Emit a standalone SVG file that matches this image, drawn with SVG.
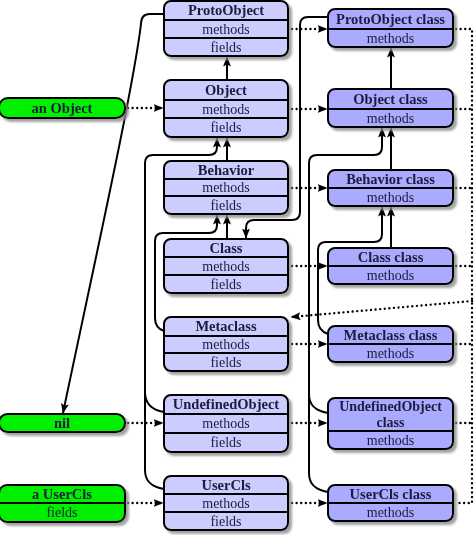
<svg xmlns="http://www.w3.org/2000/svg" width="474" height="535" viewBox="0 0 474 535">
<style>
.box{stroke:#000;stroke-width:2}
.l{fill:#ccccff}
.r{fill:#aaaaff}
.g{fill:#00f000}
.sep{stroke:#000;stroke-width:2}
text{font-family:"Liberation Serif","Times New Roman",serif;fill:#1c1c3c;text-anchor:middle}
.t{font-weight:bold;font-size:14.5px}
.t2{font-weight:bold;font-size:14px}
.m{font-size:14px}
.sol{fill:none;stroke:#000;stroke-width:2;marker-end:url(#ah)}
.sl{fill:none;stroke:#000;stroke-width:2}
.dot{fill:none;stroke:#000;stroke-width:2.4;stroke-linecap:round;stroke-dasharray:0.01 4.6}
.dota{fill:none;stroke:#000;stroke-width:2.4;stroke-linecap:round;stroke-dasharray:0.01 4.6;marker-end:url(#ahd)}
</style>
<defs>
<filter id="sh" x="-10%" y="-20%" width="130%" height="150%">
<feDropShadow dx="3" dy="3" stdDeviation="1.2" flood-color="#8c8c8c" flood-opacity="0.8"/>
</filter>
<marker id="ah" viewBox="0 0 10 8" refX="9.5" refY="4" markerWidth="10" markerHeight="8" markerUnits="userSpaceOnUse" orient="auto">
<path d="M0,0 L10,4 L0,8 L2,4 z" fill="#000"/>
</marker>
<marker id="ahd" viewBox="0 0 10 8" refX="9.5" refY="4" markerWidth="10" markerHeight="8" markerUnits="userSpaceOnUse" orient="auto">
<path d="M0,0 L10,4 L0,8 L2,4 z" fill="#000"/>
</marker>
</defs>

<g id="connectors">
<!-- inheritance, left column -->
<path class="sol" d="M227,80 V57"/>
<path class="sol" d="M227,161 V138"/>
<path class="sol" d="M227,239 V215"/>
<path class="sol" d="M164,489 C152,487 145,482 145,470 V163 Q145,155 153,155 H209 Q217,155 217,147 V138"/>
<path class="sl" d="M164,412 C152,410 145,404 145,392"/>
<path class="sol" d="M164,331 C158,329 155,325 155,318 V241 Q155,233 163,233 H209 Q217,233 217,225 V215"/>
<!-- inheritance, right column -->
<path class="sol" d="M391,89 V48"/>
<path class="sol" d="M391,170 V128"/>
<path class="sol" d="M391,248 V207"/>
<path class="sol" d="M328,492 C316,490 309,485 309,473 V163 Q309,155 317,155 H374 Q382,155 382,147 V128"/>
<path class="sl" d="M328,413 C316,411 309,406 309,394"/>
<path class="sol" d="M328,334 C322,332 318,328 318,320 V250 Q318,242 326,242 H374 Q382,242 382,234 V207"/>
<path class="sol" d="M328,17 H308 Q300,17 300,25 V212 Q300,220 292,220 H254 Q246,220 246,228 V238"/>
<path class="sol" d="M164,14 H150 Q141,14 141,24 C133,90 95,260 63,413"/>
<!-- instance-of, dotted -->
<path class="dota" d="M128,108 H163"/>
<path class="dota" d="M128,423 H163"/>
<path class="dota" d="M128,503 H163"/>
<path class="dota" d="M292,29 H327"/>
<path class="dota" d="M292,109 H327"/>
<path class="dota" d="M292,188 H327"/>
<path class="dota" d="M292,266 H327"/>
<path class="dota" d="M292,344 H327"/>
<path class="dota" d="M292,423 H327"/>
<path class="dota" d="M292,503 H327"/>
<path class="dot" d="M456,29 H472 V503 H456"/>
<path class="dot" d="M456,109 H472"/>
<path class="dot" d="M456,188 H472"/>
<path class="dot" d="M456,266 H472"/>
<path class="dot" d="M456,344 H472"/>
<path class="dot" d="M456,423 H472"/>
<path class="dota" d="M472,301 L291,317"/>
</g>

<g id="ProtoObject" filter="url(#sh)">
<rect class="box l" x="164" y="1" width="124" height="55" rx="7"/>
<path class="sep" d="M164,20 H288 M164,38 H288"/>
<text class="t" x="226" y="15">ProtoObject</text>
<text class="m" x="226" y="33.5">methods</text>
<text class="m" x="226" y="51.5">fields</text>
</g>
<g id="Object" filter="url(#sh)">
<rect class="box l" x="164" y="80" width="124" height="57" rx="7"/>
<path class="sep" d="M164,100 H288 M164,118 H288"/>
<text class="t" x="226" y="94.5">Object</text>
<text class="m" x="226" y="113.5">methods</text>
<text class="m" x="226" y="132">fields</text>
</g>
<g id="Behavior" filter="url(#sh)">
<rect class="box l" x="164" y="161" width="124" height="53" rx="7"/>
<path class="sep" d="M164,179 H288 M164,196 H288"/>
<text class="t" x="226" y="174.5">Behavior</text>
<text class="m" x="226" y="192">methods</text>
<text class="m" x="226" y="209.5">fields</text>
</g>
<g id="Class" filter="url(#sh)">
<rect class="box l" x="164" y="239" width="124" height="54" rx="7"/>
<path class="sep" d="M164,257 H288 M164,275 H288"/>
<text class="t" x="226" y="252.5">Class</text>
<text class="m" x="226" y="270.5">methods</text>
<text class="m" x="226" y="288.5">fields</text>
</g>
<g id="Metaclass" filter="url(#sh)">
<rect class="box l" x="164" y="317" width="124" height="54" rx="7"/>
<path class="sep" d="M164,336 H288 M164,353 H288"/>
<text class="t" x="226" y="331">Metaclass</text>
<text class="m" x="226" y="349">methods</text>
<text class="m" x="226" y="366.5">fields</text>
</g>
<g id="UndefinedObject" filter="url(#sh)">
<rect class="box l" x="164" y="395" width="124" height="57" rx="7"/>
<path class="sep" d="M164,414 H288 M164,433 H288"/>
<text class="t" x="226" y="409">UndefinedObject</text>
<text class="m" x="226" y="428">methods</text>
<text class="m" x="226" y="447">fields</text>
</g>
<g id="UserCls" filter="url(#sh)">
<rect class="box l" x="164" y="476" width="124" height="54" rx="7"/>
<path class="sep" d="M164,494 H288 M164,512 H288"/>
<text class="t" x="226" y="490">UserCls</text>
<text class="m" x="226" y="507.5">methods</text>
<text class="m" x="226" y="525.5">fields</text>
</g>

<g id="ProtoObjectClass" filter="url(#sh)">
<rect class="box r" x="328" y="9" width="125" height="38" rx="7"/>
<path class="sep" d="M328,29 H453"/>
<text class="t" x="390.5" y="23.5">ProtoObject class</text>
<text class="m" x="390.5" y="42.5">methods</text>
</g>
<g id="ObjectClass" filter="url(#sh)">
<rect class="box r" x="328" y="89" width="125" height="38" rx="7"/>
<path class="sep" d="M328,109 H453"/>
<text class="t" x="390.5" y="103.5">Object class</text>
<text class="m" x="390.5" y="122.5">methods</text>
</g>
<g id="BehaviorClass" filter="url(#sh)">
<rect class="box r" x="328" y="170" width="125" height="36" rx="7"/>
<path class="sep" d="M328,188 H453"/>
<text class="t" x="390.5" y="183.5">Behavior class</text>
<text class="m" x="390.5" y="201.5">methods</text>
</g>
<g id="ClassClass" filter="url(#sh)">
<rect class="box r" x="328" y="248" width="125" height="36" rx="7"/>
<path class="sep" d="M328,266 H453"/>
<text class="t" x="390.5" y="261.5">Class class</text>
<text class="m" x="390.5" y="279.5">methods</text>
</g>
<g id="MetaclassClass" filter="url(#sh)">
<rect class="box r" x="328" y="326" width="125" height="36" rx="7"/>
<path class="sep" d="M328,344 H453"/>
<text class="t" x="390.5" y="339.5">Metaclass class</text>
<text class="m" x="390.5" y="357.5">methods</text>
</g>
<g id="UndefinedObjectClass" filter="url(#sh)">
<rect class="box r" x="328" y="398" width="125" height="51" rx="7"/>
<path class="sep" d="M328,431 H453"/>
<text class="t2" x="390.5" y="410.5">UndefinedObject</text>
<text class="t2" x="390.5" y="427">class</text>
<text class="m" x="390.5" y="444.5">methods</text>
</g>
<g id="UserClsClass" filter="url(#sh)">
<rect class="box r" x="328" y="485" width="125" height="36" rx="7"/>
<path class="sep" d="M328,503 H453"/>
<text class="t" x="390.5" y="498.5">UserCls class</text>
<text class="m" x="390.5" y="516.5">methods</text>
</g>

<g id="anObject" filter="url(#sh)">
<rect class="box g" x="-1" y="98" width="126" height="20" rx="9"/>
<text class="t" x="62" y="112.5">an Object</text>
</g>
<g id="nil" filter="url(#sh)">
<rect class="box g" x="-1" y="414" width="126" height="18" rx="8.5"/>
<text class="t" x="62" y="427.5">nil</text>
</g>
<g id="aUserCls" filter="url(#sh)">
<rect class="box g" x="-1" y="485" width="126" height="37" rx="8"/>
<path class="sep" d="M-1,503 H125"/>
<text class="t" x="62" y="498.5">a UserCls</text>
<text class="m" x="62" y="517">fields</text>
</g>
</svg>
